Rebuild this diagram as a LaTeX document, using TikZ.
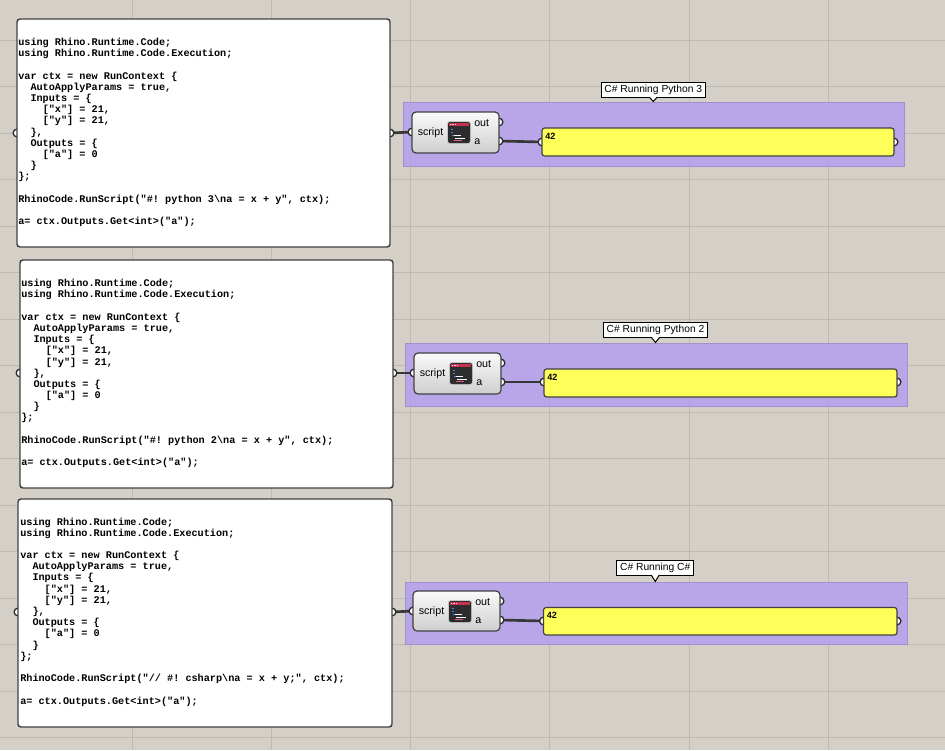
\documentclass[tikz,border=0pt]{standalone}
\usepackage{fontspec}
\setmainfont{Liberation Sans}
\setmonofont{Liberation Mono}
\usetikzlibrary{fit}
\definecolor{bg}{RGB}{212,208,200}
\definecolor{gridc}{RGB}{190,186,178}
\definecolor{grp}{RGB}{181,159,238}
\definecolor{grpb}{RGB}{160,144,205}
\definecolor{pnl}{RGB}{255,255,90}
\definecolor{wire}{RGB}{55,55,55}
\definecolor{edge}{RGB}{65,65,65}
\definecolor{icbg}{RGB}{45,45,48}
\definecolor{icred}{RGB}{196,50,80}
\definecolor{icblue}{RGB}{70,140,220}
\definecolor{icpink}{RGB}{230,90,120}
\tikzset{
 gridline/.style={draw=gridc, line width=0.75pt},
 codebox/.style={draw=edge, line width=1.1pt, fill=white, rounded corners=2.25pt, inner sep=0pt},
 grpbox/.style={fill=grp, fill opacity=0.85, draw=grpb, line width=0.75pt, inner sep=0pt},
 comp/.style={draw=edge, line width=0.9pt, rounded corners=3pt, top color=white!96!gray, bottom color=gray!38, inner sep=0pt},
 panelbox/.style={draw=edge, line width=0.9pt, rounded corners=2pt, fill=pnl, inner sep=0pt},
 grip/.style={draw=black!85, fill=white, line width=0.95pt},
 wireline/.style={draw=wire, line width=2pt},
 codetxt/.style={anchor=north west, inner sep=0pt, align=left, font=\ttfamily\bfseries\fontsize{7.65}{8.39}\selectfont},
 bubble/.style={draw=black, fill=white, line width=0.75pt, inner xsep=2.5pt, inner ysep=0pt, minimum height=11.25pt, font=\fontsize{7.7}{9}\selectfont},
 comptxt/.style={anchor=base west, inner sep=0pt, font=\fontsize{8}{9}\selectfont},
 valtxt/.style={anchor=base west, inner sep=0pt, font=\bfseries\fontsize{6.8}{8}\selectfont},
}
\newcommand\cscode[1]{\rule{0pt}{8pt}using Rhino.Runtime.Code;\\
using Rhino.Runtime.Code.Execution;\\
~\\
var ctx = new RunContext \{\\
~~AutoApplyParams = true,\\
~~Inputs = \{\\
~~~~["x"] = 21,\\
~~~~["y"] = 21,\\
~~\},\\
~~Outputs = \{\\
~~~~["a"] = 0\\
~~\}\\
\};\\
~\\
RhinoCode.RunScript("#1", ctx);\\
~\\
a= ctx.Outputs.Get<int>("a");}
\newcommand\scripticon[2]{%
 \begin{scope}[shift={(#1,#2)}]
  \fill[gray!45, rounded corners=1.5pt] (-0.8,-0.8) rectangle (22.8,21.8);
  \fill[icbg, rounded corners=1.5pt] (0,0) rectangle (22,21);
  \fill[icred] (0.7,0.7) rectangle (21.3,4);
  \fill[white!75!icred] (2,1.6) rectangle (3.2,2.9);
  \fill[white!75!icred] (4.3,1.6) rectangle (5.5,2.9);
  \fill[white!75!icred] (6.6,1.6) rectangle (7.8,2.9);
  \fill[icblue] (2.5,6.5) rectangle (5,7.6);
  \fill[icblue] (2.5,9.5) rectangle (4.5,10.6);
  \fill[icblue] (4,12.5) rectangle (6,13.6);
  \fill[white] (6,12.5) rectangle (13,13.6);
  \fill[white] (7,15.5) rectangle (17,16.6);
  \fill[icpink] (6,18) rectangle (14,19.1);
 \end{scope}}
\begin{document}
\begin{tikzpicture}[x=0.75pt,y=-0.75pt]
\useasboundingbox (0,0) rectangle (945,750);
\fill[bg] (0,0) rectangle (945,750);
% grid
\foreach \gx in {132,271.25,410.5,549.75,689,828.25}
  \draw[gridline] (\gx,0) -- (\gx,750);
\foreach \k in {0,...,15}{
  \pgfmathsetmacro\gy{40.4+46.49*\k}
  \draw[gridline] (0,\gy) -- (945,\gy);}
% groups
\node[grpbox, fit={(403,102) (904,166)}] (g1) {};
\node[grpbox, fit={(405,343) (907,406)}] (g2) {};
\node[grpbox, fit={(405,582) (907,644)}] (g3) {};
% grip coordinates
\coordinate (c1in) at (17,133);   \coordinate (c1out) at (390,133);
\coordinate (c2in) at (20,373);   \coordinate (c2out) at (393,373);
\coordinate (c3in) at (18,612);   \coordinate (c3out) at (392,612);
\coordinate (s1in) at (412,132);  \coordinate (s1out) at (499,122); \coordinate (s1a) at (499,141);
\coordinate (s2in) at (414,373);  \coordinate (s2out) at (501,363); \coordinate (s2a) at (501,382);
\coordinate (s3in) at (413,611);  \coordinate (s3out) at (500,601); \coordinate (s3a) at (500,620);
\coordinate (p1in) at (542,142);  \coordinate (p1out) at (894,142);
\coordinate (p2in) at (544,382);  \coordinate (p2out) at (897,382);
\coordinate (p3in) at (543.5,621); \coordinate (p3out) at (897,621);
% wires
\draw[wireline] (c1out) -- (s1in);
\draw[wireline] (s1a) -- (p1in);
\draw[wireline] (c2out) -- (s2in);
\draw[wireline] (s2a) -- (p2in);
\draw[wireline] (c3out) -- (s3in);
\draw[wireline] (s3a) -- (p3in);
% grips
\foreach \g in {c1in,c1out,c2in,c2out,c3in,c3out,s1in,s1out,s1a,s2in,s2out,s2a,s3in,s3out,s3a,p1in,p1out,p2in,p2out,p3in,p3out}
  \draw[grip] (\g) circle[radius=2.9pt];
% code boxes
\node[codebox, fit={(17,19) (390,247)}] (c1) {};
\node[codebox, fit={(20,260) (393,488)}] (c2) {};
\node[codebox, fit={(18,499) (392,727)}] (c3) {};
\node[codetxt] (t1) at (18,34.6) {\cscode{\#! python 3\textbackslash na = x + y}};
\node[codetxt] (t2) at (21,275.8) {\cscode{\#! python 2\textbackslash na = x + y}};
\node[codetxt] (t3) at (20,514.1) {\cscode{// \#! csharp\textbackslash na = x + y;}};
% script components
\node[comp, fit={(412,112) (499,153)}] (s1) {};
\node[comp, fit={(414,353) (501,394)}] (s2) {};
\node[comp, fit={(413,591) (500,631)}] (s3) {};
\scripticon{448}{122}
\scripticon{450}{363}
\scripticon{449}{601}
\node[comptxt] (s1l) at (417.5,135) {script};
\node[comptxt] (s1o) at (474,126) {out};
\node[comptxt] (s1b) at (474,144.5) {a};
\node[comptxt] (s2l) at (419.5,376) {script};
\node[comptxt] (s2o) at (476,367) {out};
\node[comptxt] (s2b) at (476,385.5) {a};
\node[comptxt] (s3l) at (418.5,614) {script};
\node[comptxt] (s3o) at (475,605) {out};
\node[comptxt] (s3b) at (475,623.5) {a};
% panels
\node[panelbox, fit={(542,128) (894,156)}] (p1) {};
\node[panelbox, fit={(544,369) (897,397)}] (p2) {};
\node[panelbox, fit={(543.5,607.5) (897,635)}] (p3) {};
\node[valtxt] (v1) at (545,139) {42};
\node[valtxt] (v2) at (547,380) {42};
\node[valtxt] (v3) at (546.5,618.5) {42};
% labels
\node[bubble] (l1) at (653.25,89.5) {C\# Running Python 3};
\fill[white] (649.6,96.2) rectangle (656.9,97.8);
\draw[fill=white, line width=0.75pt] (649.25,97) -- (653.25,101.5) -- (657.25,97);
\node[bubble] (l2) at (655.5,330) {C\# Running Python 2};
\fill[white] (651.85,336.7) rectangle (659.15,338.3);
\draw[fill=white, line width=0.75pt] (651.5,337.5) -- (655.5,342.5) -- (659.5,337.5);
\node[bubble] (l3) at (655.25,567.5) {C\# Running C\#};
\fill[white] (651.6,574.2) rectangle (658.9,575.8);
\draw[fill=white, line width=0.75pt] (651.25,575) -- (655.25,581.5) -- (659.25,575);
\end{tikzpicture}
\end{document}
